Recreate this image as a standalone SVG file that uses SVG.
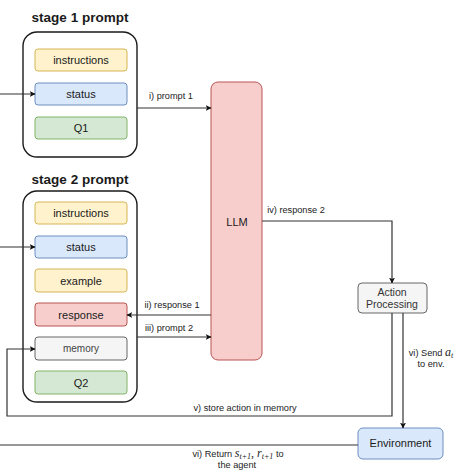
<svg xmlns="http://www.w3.org/2000/svg" width="474" height="474" viewBox="0 0 474 474">
<style>
text{font-family:"Liberation Sans",Arial,sans-serif;fill:#1a1a1a}
.title{font-size:13.5px;font-weight:bold;text-anchor:middle}
.box{font-size:11px;text-anchor:middle}
.lbl{font-size:9.2px;text-anchor:middle;fill:#222}
.math{font-family:"Liberation Serif","DejaVu Serif",serif;font-style:italic}
.outer{fill:#fff;stroke:#1a1a1a;stroke-width:1.4}
.y{fill:#fff2cc;stroke:#d6b656}
.b{fill:#dae8fc;stroke:#6c8ebf}
.g{fill:#d5e8d4;stroke:#82b366}
.r{fill:#f8cecc;stroke:#b85450}
.gr{fill:#f5f5f5;stroke:#666}
.c{fill:none;stroke:#333;stroke-width:1.2}
</style>
<defs>
<marker id="ah" viewBox="0 0 10 10" refX="9" refY="5" markerWidth="6" markerHeight="6" orient="auto" markerUnits="userSpaceOnUse">
<path d="M0,0 L10,5 L0,10 L2.5,5 Z" fill="#111"/>
</marker>
</defs>

<g id="stage1">
<text class="title" x="80" y="22">stage 1 prompt</text>
<rect class="outer" x="23" y="32" width="114" height="125" rx="14"/>
<g id="s1-instructions"><rect class="y" x="35" y="49" width="92" height="22" rx="3"/><text class="box" x="81" y="64">instructions</text></g>
<g id="s1-status"><rect class="b" x="35" y="83" width="92" height="22" rx="3"/><text class="box" x="81" y="98">status</text></g>
<g id="s1-q1"><rect class="g" x="35" y="117" width="92" height="22" rx="3"/><text class="box" x="81" y="132">Q1</text></g>
</g>

<g id="stage2">
<text class="title" x="80" y="184">stage 2 prompt</text>
<rect class="outer" x="23" y="191" width="114" height="211" rx="14"/>
<g id="s2-instructions"><rect class="y" x="35" y="202" width="92" height="22" rx="3"/><text class="box" x="81" y="217">instructions</text></g>
<g id="s2-status"><rect class="b" x="35" y="236" width="92" height="22" rx="3"/><text class="box" x="81" y="251">status</text></g>
<g id="s2-example"><rect class="y" x="35" y="269" width="92" height="23" rx="3"/><text class="box" x="81" y="284.5">example</text></g>
<g id="s2-response"><rect class="r" x="35" y="303" width="92" height="23" rx="3"/><text class="box" x="81" y="318.5">response</text></g>
<g id="s2-memory"><rect class="gr" x="35" y="337" width="92" height="23" rx="3"/><text class="box" x="81" y="352" style="font-size:10px;fill:#444">memory</text></g>
<g id="s2-q2"><rect class="g" x="35" y="371" width="92" height="23" rx="3"/><text class="box" x="81" y="386.5">Q2</text></g>
</g>

<g id="llm"><rect class="r" x="211" y="82" width="51" height="278" rx="7"/><text class="box" x="237" y="226">LLM</text></g>

<g id="action"><rect class="gr" x="358" y="283" width="69" height="30" rx="4"/><text class="box" x="392" y="295.5" style="font-size:10.5px;fill:#333">Action</text><text class="box" x="392" y="307.5" style="font-size:10.5px;fill:#333">Processing</text></g>

<g id="environment"><rect class="b" x="358" y="428" width="85" height="31" rx="5"/><text class="box" x="400.5" y="447">Environment</text></g>

<g id="connectors">
<path class="c" d="M0,94 L35,94" marker-end="url(#ah)"/>
<path class="c" d="M137,108 L211,108" marker-end="url(#ah)"/>
<path class="c" d="M0,247 L35,247" marker-end="url(#ah)"/>
<path class="c" d="M211,315 L127,315" marker-end="url(#ah)"/>
<path class="c" d="M137,337 L211,337" marker-end="url(#ah)"/>
<path class="c" d="M262,221 L392,221 L392,283" marker-end="url(#ah)"/>
<path class="c" d="M392,313 L392,416 L7,416 L7,349 L35,349" marker-end="url(#ah)"/>
<path class="c" d="M403,313 L403,428" marker-end="url(#ah)"/>
<path class="c" d="M358,445 L0,445"/>
</g>

<g id="labels">
<text class="lbl" x="171" y="99">i) prompt 1</text>
<text class="lbl" x="172" y="308">ii) response 1</text>
<text class="lbl" x="169" y="331">iii) prompt 2</text>
<text class="lbl" x="296" y="213">iv) response 2</text>
<text class="lbl" x="245" y="411">v) store action in memory</text>
<text class="lbl" x="431" y="356">vi) Send  <tspan class="math" font-size="12">a</tspan><tspan class="math" font-size="8" dy="2">t</tspan></text>
<text class="lbl" x="431" y="367">to env.</text>
<text class="lbl" x="238" y="457">vi) Return <tspan class="math" font-size="12">s</tspan><tspan class="math" font-size="8" dy="2">t+1</tspan><tspan class="math" font-size="12" dy="-2">, r</tspan><tspan class="math" font-size="8" dy="2">t+1</tspan><tspan dy="-2"> to</tspan></text>
<text class="lbl" x="237" y="468">the agent</text>
</g>
</svg>
